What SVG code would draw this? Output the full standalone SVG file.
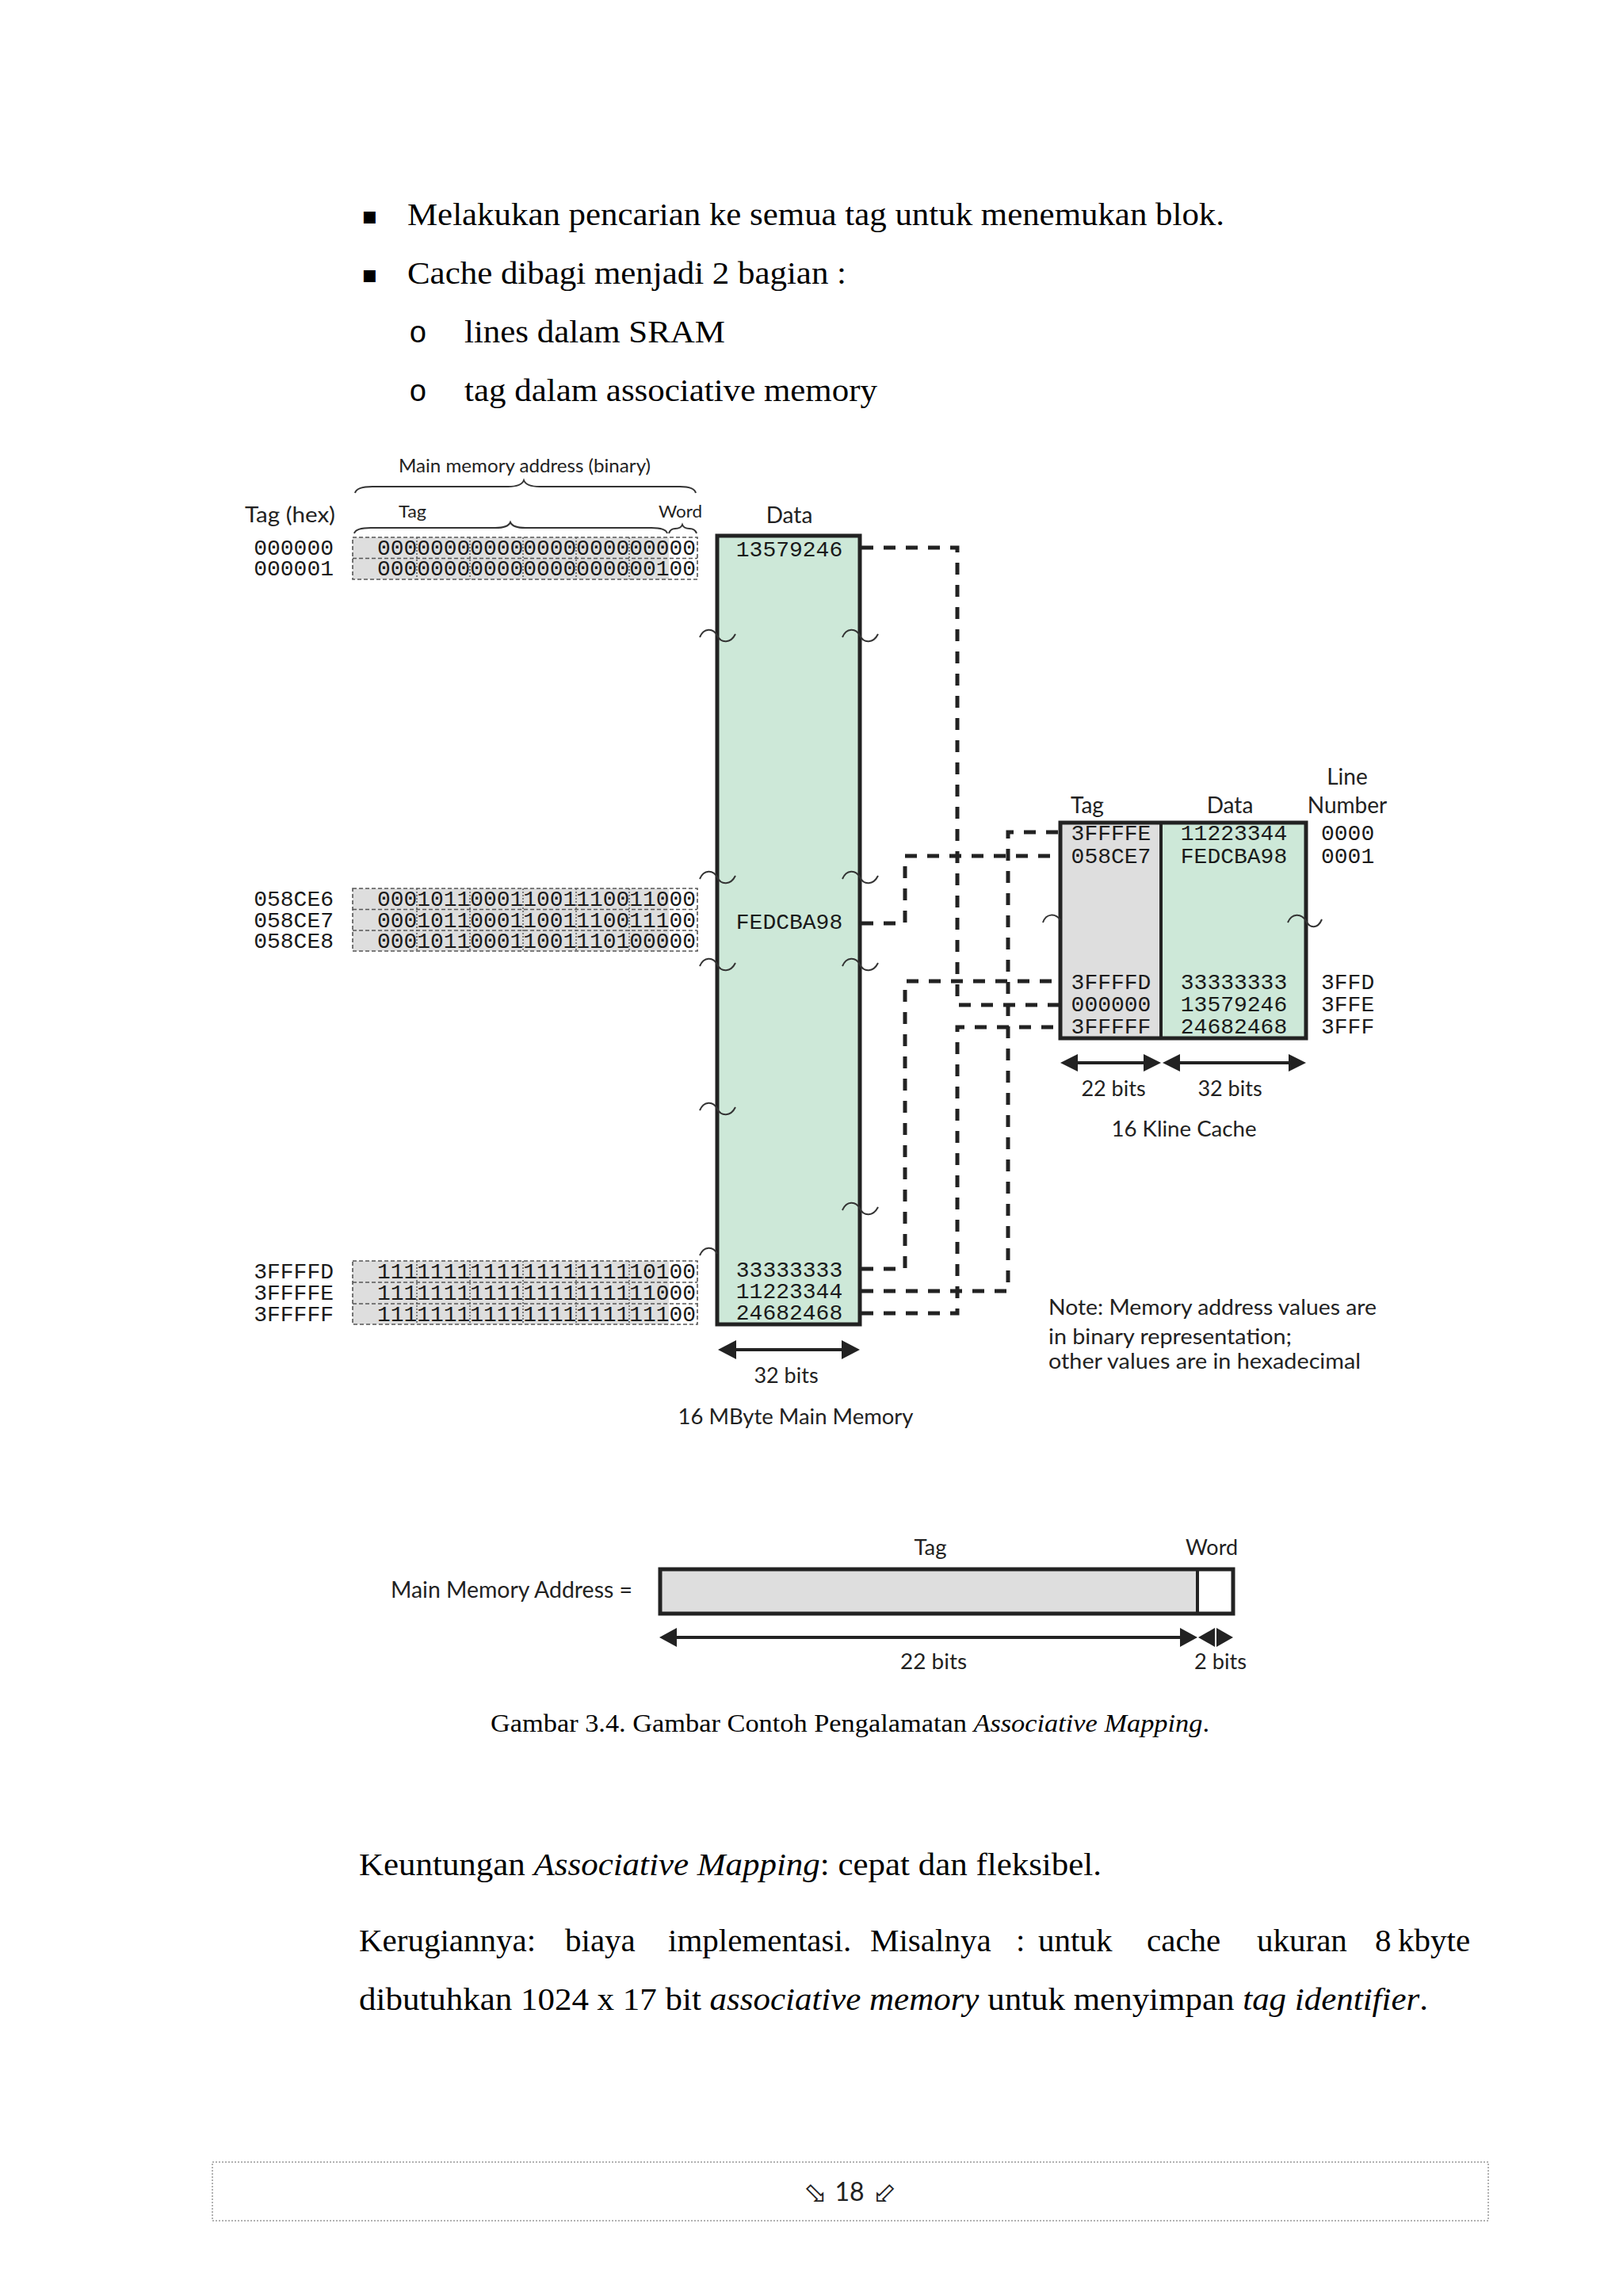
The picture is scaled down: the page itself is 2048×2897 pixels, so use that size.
<svg xmlns="http://www.w3.org/2000/svg" width="2048" height="2897" viewBox="0 0 2048 2897">
<style>
.body{font-family:"Liberation Serif","Times New Roman",serif;font-size:41px;fill:#000}
.it{font-style:italic}
.sans{font-family:Lato,"Open Sans","Liberation Sans",sans-serif;fill:#222}
.mono{font-family:"Liberation Mono","Courier New",monospace;font-size:28px;fill:#1a1a1a}
.dash{fill:none;stroke:#222;stroke-width:5;stroke-dasharray:15 13}
.brk{fill:none;stroke:#333;stroke-width:2}
.brace{fill:none;stroke:#333;stroke-width:2}
.binbox{fill:none;stroke:#555;stroke-width:1.6;stroke-dasharray:5 3}
.bindiv{fill:none;stroke:#555;stroke-width:1.4;stroke-dasharray:2 2}
.arrow{stroke:#222;stroke-width:4;fill:none}
.ah{fill:#222}
</style>
<rect width="2048" height="2897" fill="#ffffff"/>

<g id="bullets">
<text x="456" y="282" font-family="DejaVu Sans,sans-serif" font-size="30">▪</text>
<text class="body" x="514" y="284" textLength="1031" lengthAdjust="spacingAndGlyphs">Melakukan pencarian ke semua tag untuk menemukan blok.</text>
<text x="456" y="356" font-family="DejaVu Sans,sans-serif" font-size="30">▪</text>
<text class="body" x="514" y="358" textLength="554" lengthAdjust="spacingAndGlyphs">Cache dibagi menjadi 2 bagian :</text>
<text x="516" y="432" font-family="Liberation Mono,monospace" font-size="38">o</text>
<text class="body" x="586" y="432" textLength="329" lengthAdjust="spacingAndGlyphs">lines dalam SRAM</text>
<text x="516" y="506" font-family="Liberation Mono,monospace" font-size="38">o</text>
<text class="body" x="586" y="506" textLength="521" lengthAdjust="spacingAndGlyphs">tag dalam associative memory</text>
</g>

<g id="address-labels">
<text class="sans" x="662" y="596" font-size="24" text-anchor="middle" textLength="318" lengthAdjust="spacingAndGlyphs">Main memory address (binary)</text>
<path class="brace" d="M448,622 Q450,614 470,614 L641,614 Q658,614 661,606 Q664,614 681,614 L858,614 Q876,614 878,622"/>
<text class="sans" x="309" y="659" font-size="27" textLength="114" lengthAdjust="spacingAndGlyphs">Tag (hex)</text>
<text class="sans" x="503" y="653" font-size="22" textLength="35" lengthAdjust="spacingAndGlyphs">Tag</text>
<text class="sans" x="831" y="653" font-size="22" textLength="55" lengthAdjust="spacingAndGlyphs">Word</text>
<path class="brace" d="M447,673 Q449,666 468,666 L625,666 Q641,666 644,659 Q647,666 663,666 L822,666 Q840,666 842,673"/>
<path class="brace" d="M844,673 Q846,667 852,667 Q859,667 861,662 Q863,667 870,667 Q877,667 879,673"/>
</g>

<g id="binary-group-1">
<rect x="445" y="678" width="399" height="53" fill="#dedede"/>
<rect class="binbox" x="445" y="678" width="435" height="53"/>
<line class="binbox" x1="445" y1="704.5" x2="880" y2="704.5"/>
<path class="bindiv" d="M526,678V731M593,678V731M660,678V731M727,678V731M794,678V731"/>
<text class="mono" x="421" y="700" text-anchor="end">000000</text>
<text class="mono" x="421" y="726" text-anchor="end">000001</text>
<text class="mono" x="476" y="700" textLength="402" lengthAdjust="spacingAndGlyphs">000000000000000000000000</text>
<text class="mono" x="476" y="726" textLength="402" lengthAdjust="spacingAndGlyphs">000000000000000000000100</text>
</g>

<g id="binary-group-2">
<rect x="445" y="1121" width="399" height="79" fill="#dedede"/>
<rect class="binbox" x="445" y="1121" width="435" height="79"/>
<path class="binbox" d="M445,1147.5H880M445,1174H880"/>
<path class="bindiv" d="M526,1121V1200M593,1121V1200M660,1121V1200M727,1121V1200M794,1121V1200"/>
<text class="mono" x="421" y="1143" text-anchor="end">058CE6</text>
<text class="mono" x="421" y="1170" text-anchor="end">058CE7</text>
<text class="mono" x="421" y="1196" text-anchor="end">058CE8</text>
<text class="mono" x="476" y="1143" textLength="402" lengthAdjust="spacingAndGlyphs">000101100011001110011000</text>
<text class="mono" x="476" y="1170" textLength="402" lengthAdjust="spacingAndGlyphs">000101100011001110011100</text>
<text class="mono" x="476" y="1196" textLength="402" lengthAdjust="spacingAndGlyphs">000101100011001110100000</text>
</g>

<g id="binary-group-3">
<rect x="445" y="1591" width="399" height="80" fill="#dedede"/>
<rect class="binbox" x="445" y="1591" width="435" height="80"/>
<path class="binbox" d="M445,1618H880M445,1645H880"/>
<path class="bindiv" d="M526,1591V1671M593,1591V1671M660,1591V1671M727,1591V1671M794,1591V1671"/>
<text class="mono" x="421" y="1613" text-anchor="end">3FFFFD</text>
<text class="mono" x="421" y="1640" text-anchor="end">3FFFFE</text>
<text class="mono" x="421" y="1667" text-anchor="end">3FFFFF</text>
<text class="mono" x="476" y="1613" textLength="402" lengthAdjust="spacingAndGlyphs">111111111111111111110100</text>
<text class="mono" x="476" y="1640" textLength="402" lengthAdjust="spacingAndGlyphs">111111111111111111111000</text>
<text class="mono" x="476" y="1667" textLength="402" lengthAdjust="spacingAndGlyphs">111111111111111111111100</text>
</g>

<g id="main-memory">
<text class="sans" x="996" y="660" font-size="28" text-anchor="middle">Data</text>
<rect x="905" y="676" width="180" height="995" fill="#cde8d8" stroke="#222" stroke-width="5"/>
<text class="mono" x="996" y="702" text-anchor="middle">13579246</text>
<text class="mono" x="996" y="1172" text-anchor="middle">FEDCBA98</text>
<text class="mono" x="996" y="1611" text-anchor="middle">33333333</text>
<text class="mono" x="996" y="1638" text-anchor="middle">11223344</text>
<text class="mono" x="996" y="1665" text-anchor="middle">24682468</text>
<path class="brk" d="M883,804 C888,792 900,792 905,802 C910,812 922,812 928,800"/>
<path class="brk" d="M1063,804 C1068,792 1080,792 1085,802 C1090,812 1102,812 1108,800"/>
<path class="brk" d="M883,1109 C888,1097 900,1097 905,1107 C910,1117 922,1117 928,1105"/>
<path class="brk" d="M1063,1109 C1068,1097 1080,1097 1085,1107 C1090,1117 1102,1117 1108,1105"/>
<path class="brk" d="M883,1219 C888,1207 900,1207 905,1217 C910,1227 922,1227 928,1215"/>
<path class="brk" d="M1063,1219 C1068,1207 1080,1207 1085,1217 C1090,1227 1102,1227 1108,1215"/>
<path class="brk" d="M883,1401 C888,1389 900,1389 905,1399 C910,1409 922,1409 928,1397"/>
<path class="brk" d="M1063,1527 C1068,1515 1080,1515 1085,1525 C1090,1535 1102,1535 1108,1523"/>
<path class="brk" d="M883,1584 C888,1572 900,1572 905,1582"/>
<line class="arrow" x1="925" y1="1703" x2="1065" y2="1703"/>
<polygon class="ah" points="906,1703 929,1691 929,1715"/>
<polygon class="ah" points="1085,1703 1062,1691 1062,1715"/>
<text class="sans" x="992" y="1745" font-size="27" text-anchor="middle">32 bits</text>
<text class="sans" x="1004" y="1797" font-size="27" text-anchor="middle" textLength="297" lengthAdjust="spacingAndGlyphs">16 MByte Main Memory</text>
</g>

<g id="connectors">
<path class="dash" d="M1087,691 H1208 V1268 H1336"/>
<path class="dash" d="M1087,1165 H1142 V1080 H1336"/>
<path class="dash" d="M1087,1601 H1142 V1238 H1336"/>
<path class="dash" d="M1087,1629 H1272 V1050 H1336"/>
<path class="dash" d="M1087,1657 H1208 V1296 H1336"/>
</g>

<g id="cache">
<text class="sans" x="1372" y="1026" font-size="28" text-anchor="middle">Tag</text>
<text class="sans" x="1552" y="1026" font-size="28" text-anchor="middle">Data</text>
<text class="sans" x="1700" y="990" font-size="28" text-anchor="middle">Line</text>
<text class="sans" x="1700" y="1026" font-size="28" text-anchor="middle">Number</text>
<rect x="1338" y="1038" width="127" height="272" fill="#dedede"/>
<rect x="1465" y="1038" width="183" height="272" fill="#cde8d8"/>
<rect x="1338" y="1038" width="310" height="272" fill="none" stroke="#222" stroke-width="5"/>
<line x1="1465" y1="1038" x2="1465" y2="1310" stroke="#222" stroke-width="4"/>
<text class="mono" x="1402" y="1060" text-anchor="middle">3FFFFE</text>
<text class="mono" x="1402" y="1089" text-anchor="middle">058CE7</text>
<text class="mono" x="1402" y="1248" text-anchor="middle">3FFFFD</text>
<text class="mono" x="1402" y="1276" text-anchor="middle">000000</text>
<text class="mono" x="1402" y="1304" text-anchor="middle">3FFFFF</text>
<text class="mono" x="1557" y="1060" text-anchor="middle">11223344</text>
<text class="mono" x="1557" y="1089" text-anchor="middle">FEDCBA98</text>
<text class="mono" x="1557" y="1248" text-anchor="middle">33333333</text>
<text class="mono" x="1557" y="1276" text-anchor="middle">13579246</text>
<text class="mono" x="1557" y="1304" text-anchor="middle">24682468</text>
<text class="mono" x="1667" y="1060">0000</text>
<text class="mono" x="1667" y="1089">0001</text>
<text class="mono" x="1667" y="1248">3FFD</text>
<text class="mono" x="1667" y="1276">3FFE</text>
<text class="mono" x="1667" y="1304">3FFF</text>
<path class="brk" d="M1316,1164 C1320,1152 1332,1152 1338,1161"/>
<path class="brk" d="M1625,1164 C1630,1152 1642,1152 1648,1162 C1653,1172 1663,1172 1668,1160"/>
<line class="arrow" x1="1356" y1="1341" x2="1447" y2="1341"/>
<polygon class="ah" points="1338,1341 1360,1330 1360,1352"/>
<polygon class="ah" points="1465,1341 1443,1330 1443,1352"/>
<line class="arrow" x1="1485" y1="1341" x2="1630" y2="1341"/>
<polygon class="ah" points="1467,1341 1489,1330 1489,1352"/>
<polygon class="ah" points="1648,1341 1626,1330 1626,1352"/>
<text class="sans" x="1405" y="1383" font-size="27" text-anchor="middle">22 bits</text>
<text class="sans" x="1552" y="1383" font-size="27" text-anchor="middle">32 bits</text>
<text class="sans" x="1494" y="1434" font-size="27" text-anchor="middle" textLength="183" lengthAdjust="spacingAndGlyphs">16 Kline Cache</text>
</g>

<g id="note">
<text class="sans" x="1323" y="1659" font-size="27" textLength="414" lengthAdjust="spacingAndGlyphs">Note: Memory address values are</text>
<text class="sans" x="1323" y="1696" font-size="27" textLength="307" lengthAdjust="spacingAndGlyphs">in binary representation;</text>
<text class="sans" x="1323" y="1727" font-size="27" textLength="394" lengthAdjust="spacingAndGlyphs">other values are in hexadecimal</text>
</g>

<g id="address-format">
<text class="sans" x="1174" y="1962" font-size="27" text-anchor="middle" textLength="41" lengthAdjust="spacingAndGlyphs">Tag</text>
<text class="sans" x="1529" y="1962" font-size="27" text-anchor="middle" textLength="66" lengthAdjust="spacingAndGlyphs">Word</text>
<text class="sans" x="493" y="2016" font-size="28" textLength="305" lengthAdjust="spacingAndGlyphs">Main Memory Address =</text>
<rect x="833" y="1980" width="678" height="56" fill="#dedede"/>
<rect x="833" y="1980" width="723" height="56" fill="none" stroke="#222" stroke-width="5"/>
<line x1="1511" y1="1980" x2="1511" y2="2036" stroke="#222" stroke-width="4"/>
<line class="arrow" x1="850" y1="2066" x2="1492" y2="2066"/>
<polygon class="ah" points="832,2066 854,2054 854,2078"/>
<polygon class="ah" points="1511,2066 1489,2054 1489,2078"/>
<polygon class="ah" points="1512,2066 1533,2054 1533,2078"/>
<polygon class="ah" points="1556,2066 1535,2054 1535,2078"/>
<line x1="1534" y1="2052" x2="1534" y2="2080" stroke="#fff" stroke-width="1.5"/>
<text class="sans" x="1178" y="2106" font-size="27" text-anchor="middle" textLength="84" lengthAdjust="spacingAndGlyphs">22 bits</text>
<text class="sans" x="1540" y="2106" font-size="27" text-anchor="middle" textLength="66" lengthAdjust="spacingAndGlyphs">2 bits</text>
</g>

<g id="caption">
<text class="body" x="619" y="2185" textLength="907" lengthAdjust="spacingAndGlyphs" style="font-size:32px">Gambar 3.4. Gambar Contoh Pengalamatan <tspan class="it">Associative Mapping</tspan>.</text>
</g>

<g id="paragraphs">
<text class="body" x="453" y="2366" textLength="937" lengthAdjust="spacingAndGlyphs">Keuntungan <tspan class="it">Associative Mapping</tspan>: cepat dan fleksibel.</text>
<text class="body" y="2462"><tspan x="453">Kerugiannya:</tspan><tspan x="713">biaya</tspan><tspan x="843">implementasi.</tspan><tspan x="1098">Misalnya</tspan><tspan x="1282">:</tspan><tspan x="1310">untuk</tspan><tspan x="1447">cache</tspan><tspan x="1586">ukuran</tspan><tspan x="1735">8</tspan><tspan x="1764">kbyte</tspan></text>
<text class="body" x="453" y="2536" textLength="1349" lengthAdjust="spacingAndGlyphs">dibutuhkan 1024 x 17 bit <tspan class="it">associative memory</tspan> untuk menyimpan <tspan class="it">tag identifier</tspan>.</text>
</g>

<g id="footer">
<rect x="268" y="2728" width="1610" height="74" fill="none" stroke="#999" stroke-width="1.5" stroke-dasharray="2 2"/>
<text x="1029" y="2779" font-family="DejaVu Sans,sans-serif" font-size="36" text-anchor="middle" fill="#222">⬂</text>
<text x="1072" y="2777" font-family="Lato,'Liberation Sans',sans-serif" font-size="32" text-anchor="middle" fill="#222">18</text>
<text x="1116" y="2779" font-family="DejaVu Sans,sans-serif" font-size="36" text-anchor="middle" fill="#222">⬃</text>
</g>
</svg>
